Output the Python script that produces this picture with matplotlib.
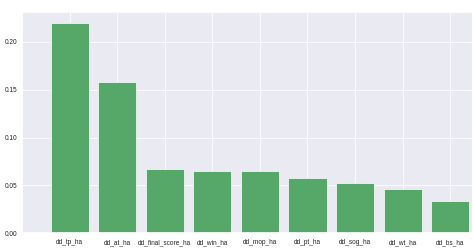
import matplotlib
matplotlib.use("Agg")
import matplotlib.pyplot as plt
import seaborn as sns

sns.set_theme(style="darkgrid")
plt.rcParams['font.family'] = ['Liberation Sans', 'DejaVu Sans']

features = ["dd_tp_ha", "dd_at_ha", "dd_final_score_ha", "dd_win_ha", "dd_mop_ha",
            "dd_pt_ha", "dd_sog_ha", "dd_wt_ha", "dd_bs_ha"]
importances = [0.2196, 0.1584, 0.0667, 0.0649, 0.0649, 0.0576, 0.0520, 0.0458, 0.0335]

fig = plt.figure(figsize=(4.74, 2.49), dpi=100)
ax = fig.add_axes([0.0464, 0.064, 0.9506, 0.888])
ax.bar(range(len(features)), importances, width=0.8, color="#55a868", edgecolor="white", linewidth=0.5)
ax.set_xticks(range(len(features)))
ax.set_xticklabels(features, fontsize=4.7, color="#262626")
ax.set_yticks([0.0, 0.05, 0.10, 0.15, 0.20])
ax.set_yticklabels(["0.00", "0.05", "0.10", "0.15", "0.20"], fontsize=4.7, color="#262626")
ax.set_xlim(-1.0, 8.47)
ax.set_ylim(0, 0.2314)
ax.grid(True, linewidth=0.6, color="white")
ax.tick_params(axis='x', pad=4.5, length=0)
ax.tick_params(axis='y', pad=3.5, length=0)
fig.savefig("out.png", dpi=100)
